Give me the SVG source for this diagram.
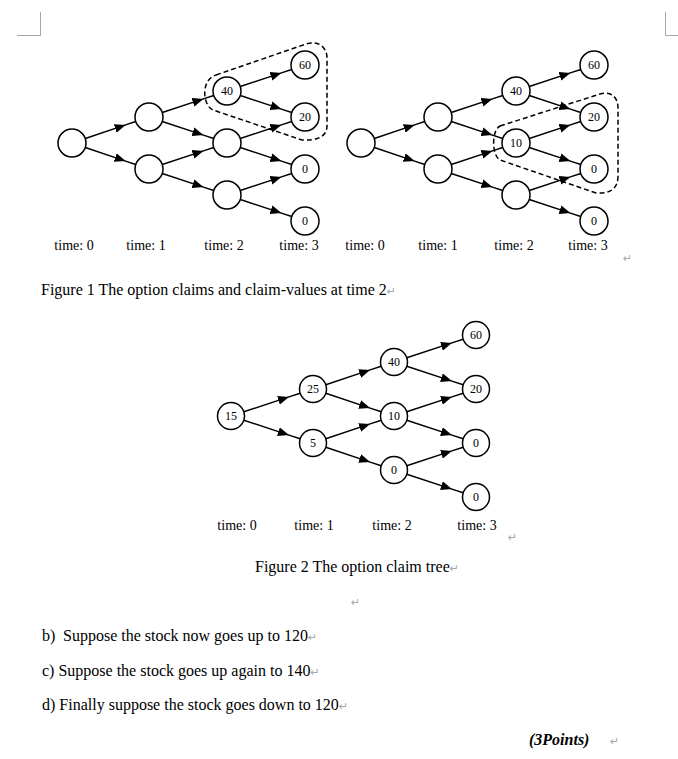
<svg xmlns="http://www.w3.org/2000/svg" width="678" height="759" viewBox="0 0 678 759">
<style>
.e{fill:none;stroke:#000;stroke-width:1.5;marker-mid:url(#ah)}
.n circle{fill:#fff;stroke:#000;stroke-width:1.5}
.n text{font-family:"Liberation Serif",serif;font-size:12px;text-anchor:middle;fill:#000}
.t{font-family:"Liberation Serif",serif;font-size:14px;text-anchor:middle;fill:#000}
.body{font-family:"Liberation Serif",serif;font-size:16px;fill:#000}
.ret{font-family:"DejaVu Sans",sans-serif;font-size:11px;fill:#a6a6a6}
.loop{fill:none;stroke:#000;stroke-width:1.5;stroke-dasharray:5,3}
.corner{fill:none;stroke:#a6a6a6;stroke-width:1}
</style>
<defs>
<marker id="ah" markerWidth="12" markerHeight="9" refX="11" refY="4.5" orient="auto" markerUnits="userSpaceOnUse" viewBox="0 0 12 9">
<path d="M0,0 L11,4.5 L0,9 Z" fill="#000"/>
</marker>
</defs>
<rect width="678" height="759" fill="#fff"/>
<path class="corner" d="M40.5,12 V35.5 H17"/>
<path class="corner" d="M665.5,12 V35.5 H678"/>

<g id="connectors">
<g id="fig1a-edges">
<path class="e" d="M85.3,138.5 L125.6,124.9 L135.7,121.5"/>
<path class="e" d="M85.3,147.5 L125.6,161.1 L135.7,164.5"/>
<path class="e" d="M162.3,112.5 L203.4,98.9 L213.7,95.5"/>
<path class="e" d="M162.3,121.5 L203.4,135.1 L213.7,138.5"/>
<path class="e" d="M162.3,164.5 L203.4,150.9 L213.7,147.5"/>
<path class="e" d="M162.3,173.5 L203.4,187.1 L213.7,190.5"/>
<path class="e" d="M240.3,86.5 L281.4,72.9 L291.7,69.5"/>
<path class="e" d="M240.3,95.5 L281.4,109.1 L291.7,112.5"/>
<path class="e" d="M240.3,138.5 L281.4,124.9 L291.7,121.5"/>
<path class="e" d="M240.3,147.5 L281.4,161.1 L291.7,164.5"/>
<path class="e" d="M240.3,190.5 L281.4,176.9 L291.7,173.5"/>
<path class="e" d="M240.3,199.5 L281.4,213.1 L291.7,216.5"/>
</g>
<g id="fig1b-edges" transform="translate(289,0)">
<path class="e" d="M85.3,138.5 L125.6,124.9 L135.7,121.5"/>
<path class="e" d="M85.3,147.5 L125.6,161.1 L135.7,164.5"/>
<path class="e" d="M162.3,112.5 L203.4,98.9 L213.7,95.5"/>
<path class="e" d="M162.3,121.5 L203.4,135.1 L213.7,138.5"/>
<path class="e" d="M162.3,164.5 L203.4,150.9 L213.7,147.5"/>
<path class="e" d="M162.3,173.5 L203.4,187.1 L213.7,190.5"/>
<path class="e" d="M240.3,86.5 L281.4,72.9 L291.7,69.5"/>
<path class="e" d="M240.3,95.5 L281.4,109.1 L291.7,112.5"/>
<path class="e" d="M240.3,138.5 L281.4,124.9 L291.7,121.5"/>
<path class="e" d="M240.3,147.5 L281.4,161.1 L291.7,164.5"/>
<path class="e" d="M240.3,190.5 L281.4,176.9 L291.7,173.5"/>
<path class="e" d="M240.3,199.5 L281.4,213.1 L291.7,216.5"/>
</g>
<g id="fig2-edges">
<path class="e" d="M243.8,411.8 L288.9,396.9 L300.2,393.2"/>
<path class="e" d="M243.8,420.2 L288.9,435.1 L300.2,438.8"/>
<path class="e" d="M325.8,384.8 L370.1,369.9 L381.2,366.2"/>
<path class="e" d="M325.8,393.2 L370.1,408.1 L381.2,411.8"/>
<path class="e" d="M325.8,438.8 L370.1,423.9 L381.2,420.2"/>
<path class="e" d="M325.8,447.2 L370.1,462.1 L381.2,465.8"/>
<path class="e" d="M406.8,357.8 L451.9,342.9 L463.2,339.2"/>
<path class="e" d="M406.8,366.2 L451.9,381.1 L463.2,384.8"/>
<path class="e" d="M406.8,411.8 L451.9,396.9 L463.2,393.2"/>
<path class="e" d="M406.8,420.2 L451.9,435.1 L463.2,438.8"/>
<path class="e" d="M406.8,465.8 L451.9,450.9 L463.2,447.2"/>
<path class="e" d="M406.8,474.2 L451.9,489.1 L463.2,492.8"/>
</g>
</g>

<g id="highlights">
<path class="loop" d="M216,75 L306,44 C318,40 327,47 327,58 L327,126 C327,136 318,141 302,140 L213,110 C203,106 200,80 216,75 Z"/>
<path class="loop" d="M500,126 L600,94 C611,91 618,97 618,108 L618,176 C618,189 610,194 596,193 L500,160 C492,156 491,131 500,126 Z"/>
</g>

<g id="fig1a-n0" class="n"><circle cx="72" cy="143" r="14"/></g>
<g id="fig1a-n1u" class="n"><circle cx="149" cy="117" r="14"/></g>
<g id="fig1a-n1d" class="n"><circle cx="149" cy="169" r="14"/></g>
<g id="fig1a-n2a" class="n"><circle cx="227" cy="91" r="14"/><text x="227" y="95">40</text></g>
<g id="fig1a-n2b" class="n"><circle cx="227" cy="143" r="14"/></g>
<g id="fig1a-n2c" class="n"><circle cx="227" cy="195" r="14"/></g>
<g id="fig1a-n3a" class="n"><circle cx="305" cy="65" r="14"/><text x="305" y="69">60</text></g>
<g id="fig1a-n3b" class="n"><circle cx="305" cy="117" r="14"/><text x="305" y="121">20</text></g>
<g id="fig1a-n3c" class="n"><circle cx="305" cy="169" r="14"/><text x="305" y="173">0</text></g>
<g id="fig1a-n3d" class="n"><circle cx="305" cy="221" r="14"/><text x="305" y="225">0</text></g>

<g id="fig1b-n0" class="n"><circle cx="361" cy="143" r="14"/></g>
<g id="fig1b-n1u" class="n"><circle cx="438" cy="117" r="14"/></g>
<g id="fig1b-n1d" class="n"><circle cx="438" cy="169" r="14"/></g>
<g id="fig1b-n2a" class="n"><circle cx="516" cy="91" r="14"/><text x="516" y="95">40</text></g>
<g id="fig1b-n2b" class="n"><circle cx="516" cy="143" r="14"/><text x="516" y="147">10</text></g>
<g id="fig1b-n2c" class="n"><circle cx="516" cy="195" r="14"/></g>
<g id="fig1b-n3a" class="n"><circle cx="594" cy="65" r="14"/><text x="594" y="69">60</text></g>
<g id="fig1b-n3b" class="n"><circle cx="594" cy="117" r="14"/><text x="594" y="121">20</text></g>
<g id="fig1b-n3c" class="n"><circle cx="594" cy="169" r="14"/><text x="594" y="173">0</text></g>
<g id="fig1b-n3d" class="n"><circle cx="594" cy="221" r="14"/><text x="594" y="225">0</text></g>

<g id="fig2-n0" class="n"><circle cx="231" cy="416" r="13.5"/><text x="231" y="420">15</text></g>
<g id="fig2-n1u" class="n"><circle cx="313" cy="389" r="13.5"/><text x="313" y="393">25</text></g>
<g id="fig2-n1d" class="n"><circle cx="313" cy="443" r="13.5"/><text x="313" y="447">5</text></g>
<g id="fig2-n2a" class="n"><circle cx="394" cy="362" r="13.5"/><text x="394" y="366">40</text></g>
<g id="fig2-n2b" class="n"><circle cx="394" cy="416" r="13.5"/><text x="394" y="420">10</text></g>
<g id="fig2-n2c" class="n"><circle cx="394" cy="470" r="13.5"/><text x="394" y="474">0</text></g>
<g id="fig2-n3a" class="n"><circle cx="476" cy="335" r="13.5"/><text x="476" y="339">60</text></g>
<g id="fig2-n3b" class="n"><circle cx="476" cy="389" r="13.5"/><text x="476" y="393">20</text></g>
<g id="fig2-n3c" class="n"><circle cx="476" cy="443" r="13.5"/><text x="476" y="447">0</text></g>
<g id="fig2-n3d" class="n"><circle cx="476" cy="497" r="13.5"/><text x="476" y="501">0</text></g>

<g id="labels">
<text class="t" x="74" y="250">time: 0</text>
<text class="t" x="146" y="250">time: 1</text>
<text class="t" x="224" y="250">time: 2</text>
<text class="t" x="299" y="250">time: 3</text>
<text class="t" x="365" y="250">time: 0</text>
<text class="t" x="438" y="250">time: 1</text>
<text class="t" x="514" y="250">time: 2</text>
<text class="t" x="588" y="250">time: 3</text>
<text class="ret" x="623" y="262">↵</text>

<text class="t" x="237" y="530">time: 0</text>
<text class="t" x="314" y="530">time: 1</text>
<text class="t" x="392" y="530">time: 2</text>
<text class="t" x="477" y="530">time: 3</text>
<text class="ret" x="508" y="541">↵</text>

<text class="body" x="41" y="295">Figure 1 The option claims and claim-values at time 2<tspan class="ret">↵</tspan></text>
<text class="body" x="255" y="572">Figure 2 The option claim tree<tspan class="ret">↵</tspan></text>
<text class="ret" x="351" y="606">↵</text>
<text class="body" x="42" y="641">b)<tspan x="63">Suppose the stock now goes up to 120</tspan><tspan class="ret">↵</tspan></text>
<text class="body" x="42" y="676">c) Suppose the stock goes up again to 140<tspan class="ret">↵</tspan></text>
<text class="body" x="42" y="710">d) Finally suppose the stock goes down to 120<tspan class="ret">↵</tspan></text>
<text class="body" x="529" y="745" font-weight="bold" font-style="italic">(3Points)</text>
<text class="ret" x="610" y="745">↵</text>
</g>
</svg>
